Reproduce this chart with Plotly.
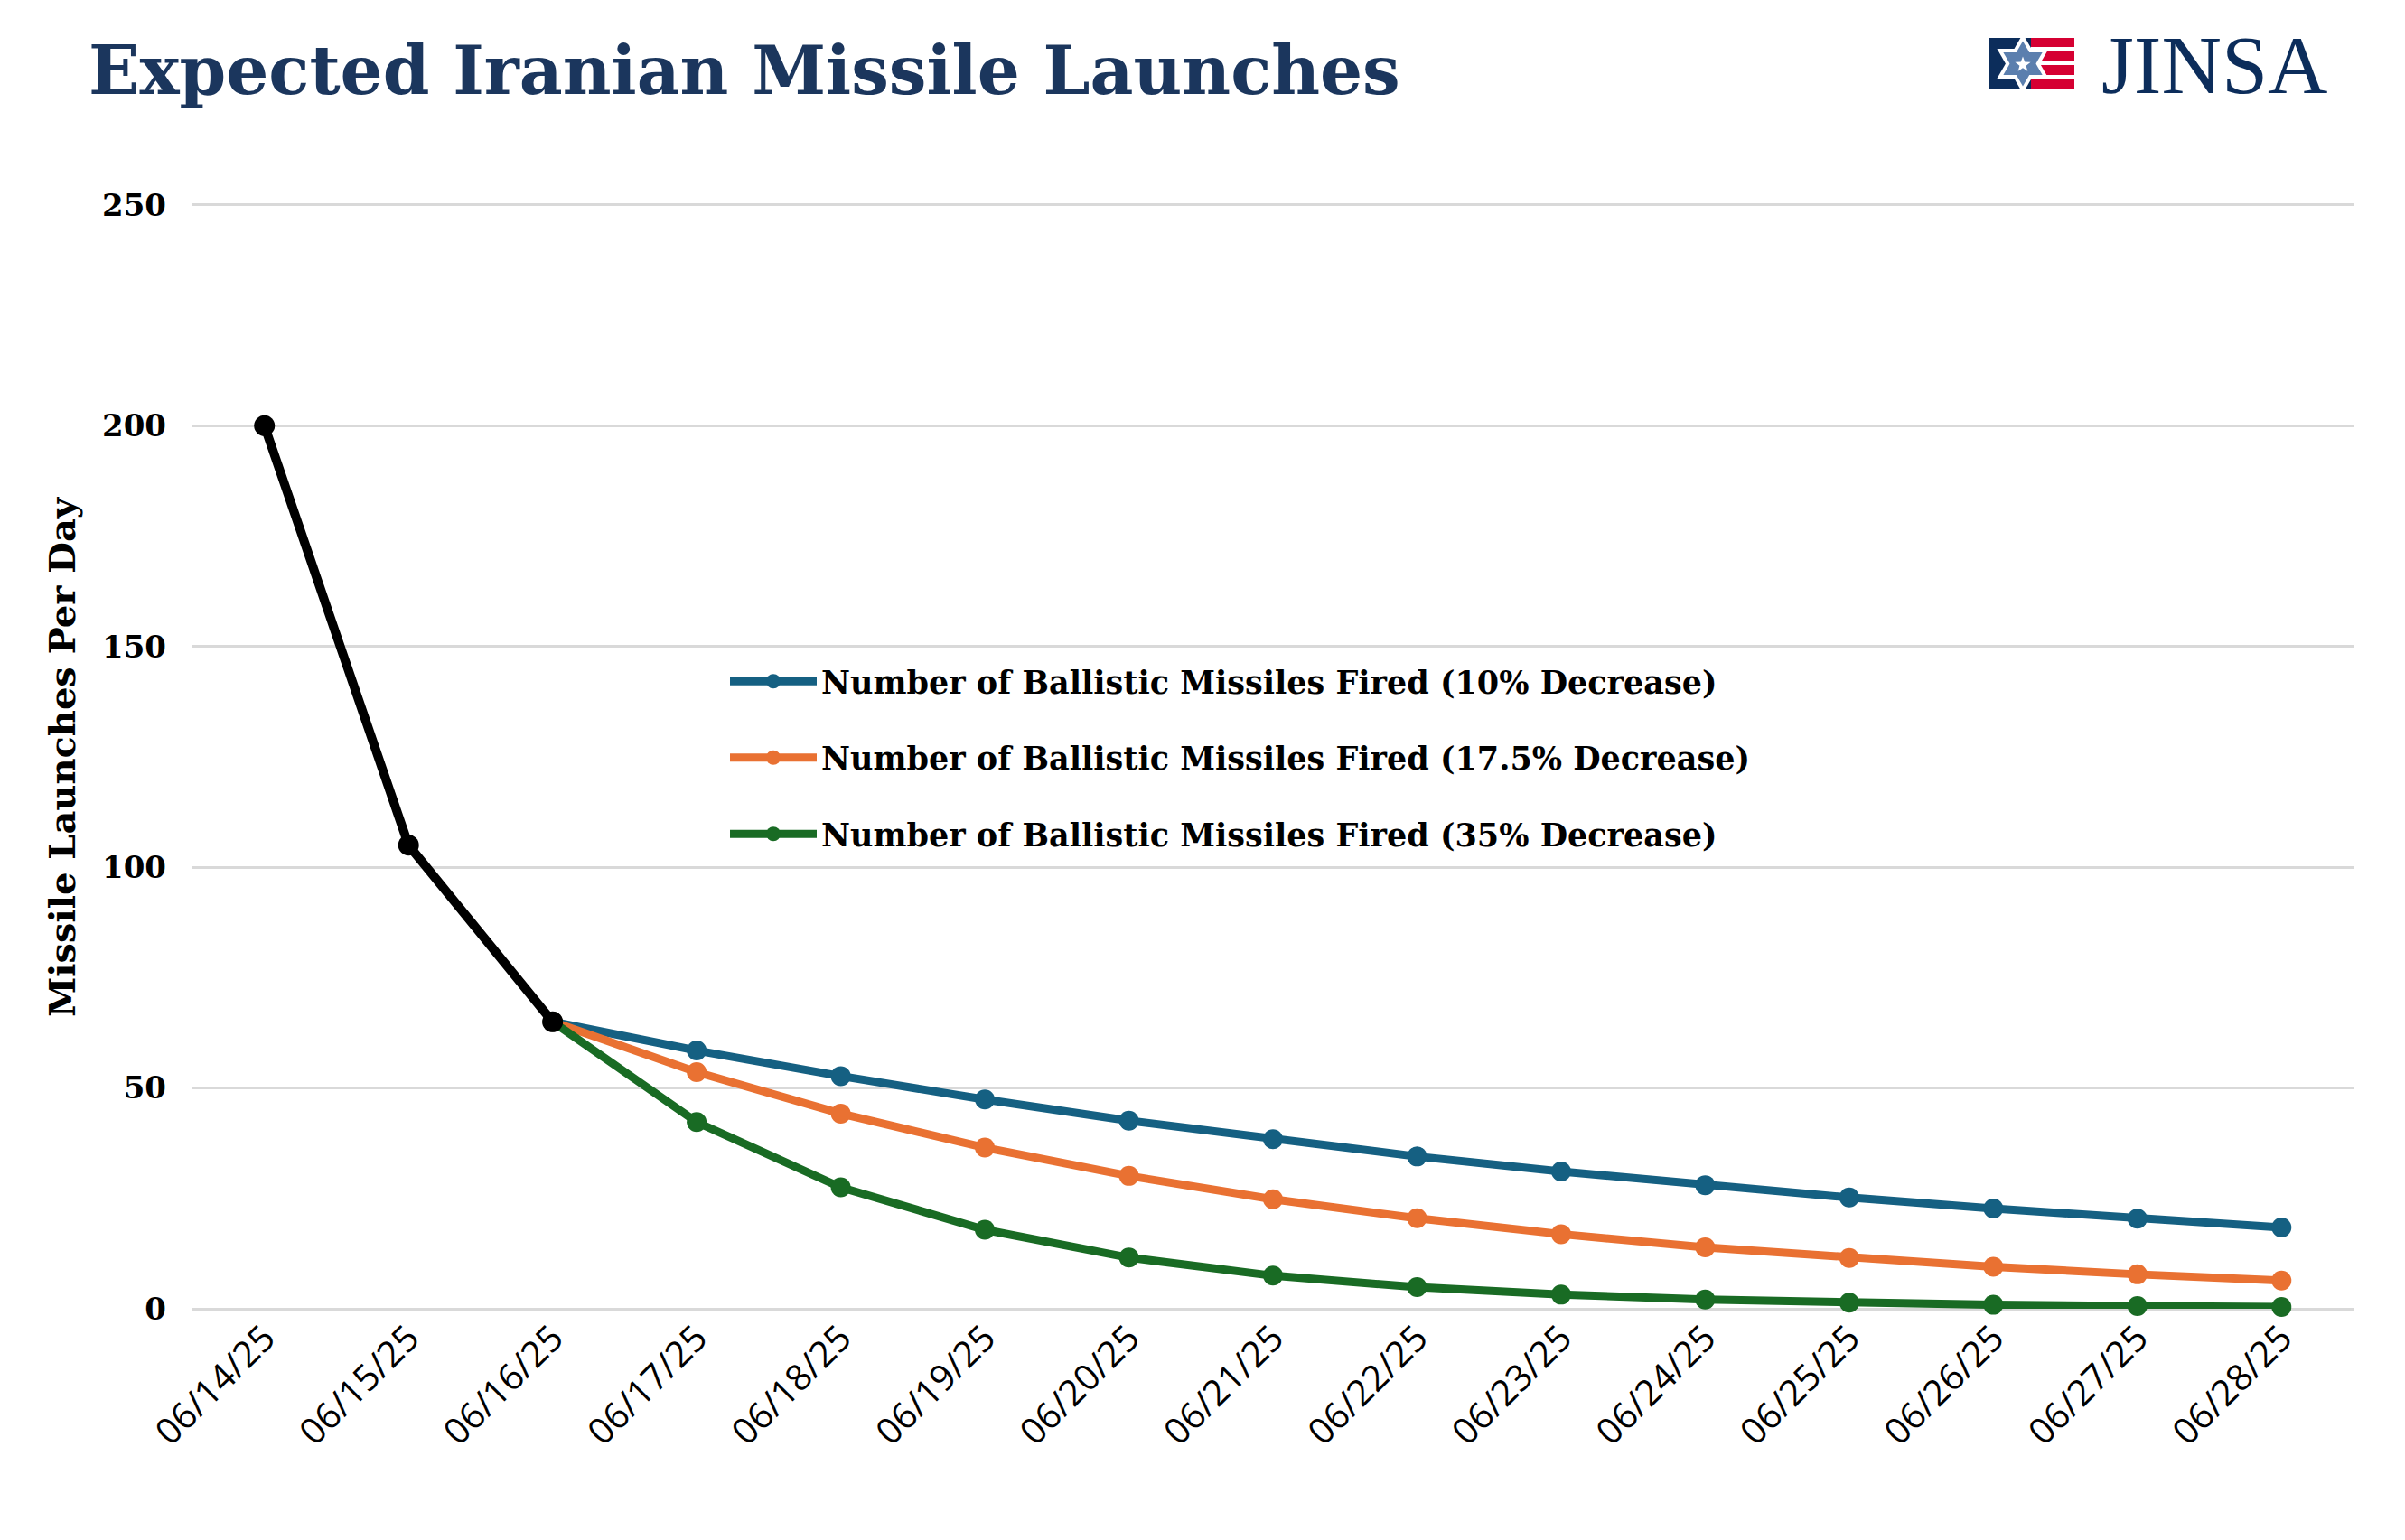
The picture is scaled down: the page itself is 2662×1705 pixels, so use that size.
import math
import plotly.graph_objects as go

# ---------------- data ----------------
dates = ["06/14/25", "06/15/25", "06/16/25", "06/17/25", "06/18/25", "06/19/25",
         "06/20/25", "06/21/25", "06/22/25", "06/23/25", "06/24/25", "06/25/25",
         "06/26/25", "06/27/25", "06/28/25"]
observed = [200, 105, 65]
dec_10 = [65, 58.5, 52.7, 47.4, 42.6, 38.4, 34.5, 31.1, 28.0, 25.2, 22.7, 20.4, 18.4]
dec_175 = [65, 53.6, 44.2, 36.5, 30.1, 24.8, 20.5, 16.9, 13.9, 11.5, 9.5, 7.8, 6.4]
dec_35 = [65, 42.3, 27.5, 17.9, 11.6, 7.5, 4.9, 3.2, 2.1, 1.4, 0.9, 0.6, 0.4]
series_names = ["Number of Ballistic Missiles Fired (10% Decrease)",
                "Number of Ballistic Missiles Fired (17.5% Decrease)",
                "Number of Ballistic Missiles Fired (35% Decrease)"]
y_ticks = [0, 50, 100, 150, 200, 250]
y_max = 250.6

# ---------------- layout geometry ----------------
W, H = 2662, 1705
ML, MR, MB = 213, 57, 256
PX_PER_UNIT = (1449 - 227) / 250.0
MT = round(227 - (y_max - 250) * PX_PER_UNIT)
PW, PH = W - ML - MR, H - MT - MB


def px(x):
    return (x - ML) / PW


def py(y):
    return (H - MB - y) / PH


BLUE, ORANGE, GREEN = "#156082", "#E97132", "#196B24"
NAVY = "#1B365D"
SERIF = "DejaVu Serif"

fig = go.Figure()
for name, vals, col in zip(series_names, [dec_10, dec_175, dec_35], [BLUE, ORANGE, GREEN]):
    fig.add_trace(go.Scatter(
        x=dates[2:], y=vals, name=name, mode="lines+markers",
        line=dict(color=col, width=9), marker=dict(color=col, size=22),
        legendgroup=name, cliponaxis=False, hoverinfo="skip"))

fig.add_trace(go.Scatter(
    x=dates[:3], y=observed, mode="lines+markers", showlegend=False,
    line=dict(color="black", width=10), marker=dict(color="black", size=23),
    cliponaxis=False, hoverinfo="skip"))

# ---------------- logo ----------------
shapes = []


def rect(x0, y0, x1, y1, color):
    shapes.append(dict(type="rect", xref="paper", yref="paper",
                       x0=px(x0), x1=px(x1), y0=py(y1), y1=py(y0),
                       fillcolor=color, line=dict(width=0), layer="above"))


def poly(points, color):
    d = "M " + " L ".join(f"{px(a):.5f},{py(b):.5f}" for a, b in points) + " Z"
    shapes.append(dict(type="path", xref="paper", yref="paper", path=d,
                       fillcolor=color, line=dict(width=0), layer="above"))


LOGO_NAVY = "#0C2D5B"
LOGO_RED = "#D50032"
LOGO_BLUE = "#5B7FAE"
rect(2202, 42, 2248, 99, LOGO_NAVY)
rect(2248, 42, 2296, 99, "white")
for y0, y1 in [(42, 52), (57, 67), (72, 83), (88, 99)]:
    rect(2248, y0, 2296, y1, LOGO_RED)
cx, cy = 2239, 70.5


def hexagram(R, color):
    c = 0.866 * R
    poly([(cx, cy - R), (cx + c, cy + R / 2), (cx - c, cy + R / 2)], color)
    poly([(cx, cy + R), (cx + c, cy - R / 2), (cx - c, cy - R / 2)], color)


hexagram(33, "white")
hexagram(25, LOGO_BLUE)
star = []
for k in range(10):
    r = 9 if k % 2 == 0 else 3.8
    a = -math.pi / 2 + k * math.pi / 5
    star.append((cx + r * math.cos(a), cy + 1 + r * math.sin(a)))
poly(star, "white")

annotations = [
    dict(text="<b>Expected Iranian Missile Launches</b>", xref="paper", yref="paper",
         x=px(96), y=py(78), xanchor="left", yanchor="middle", showarrow=False,
         font=dict(family=SERIF, size=74, color=NAVY)),
    dict(text="JINSA", xref="paper", yref="paper",
         x=px(2451), y=py(72), xanchor="center", yanchor="middle", showarrow=False,
         font=dict(family="Liberation Serif", size=92, color=LOGO_NAVY)),
    dict(text="<b>Missile Launches Per Day</b>", xref="paper", yref="paper",
         x=px(68), y=py(838), xanchor="center", yanchor="middle", showarrow=False,
         textangle=-90, font=dict(family=SERIF, size=40, color="black")),
]

fig.update_layout(
    width=W, height=H,
    margin=dict(l=ML, r=MR, t=MT, b=MB, autoexpand=False),
    paper_bgcolor="white", plot_bgcolor="white",
    showlegend=True,
    legend=dict(x=px(803), y=py(725), xanchor="left", yanchor="top",
                bgcolor="rgba(0,0,0,0)", borderwidth=0, tracegroupgap=36,
                itemwidth=96,
                font=dict(family=SERIF, size=35, color="black", weight="bold")),
    xaxis=dict(type="category", categoryorder="array", categoryarray=dates,
               range=[-0.5, len(dates) - 0.5], showgrid=False, zeroline=False,
               showline=False, ticks="", tickangle=-45,
               tickfont=dict(family="Open Sans", size=40, color="black")),
    yaxis=dict(range=[0, y_max], tickvals=y_ticks, showgrid=True, gridcolor="#D9D9D9",
               gridwidth=3, zeroline=True, zerolinecolor="#D9D9D9", zerolinewidth=3,
               showline=False, ticks="", ticklabelstandoff=28,
               tickfont=dict(family=SERIF, size=34, color="black", weight="bold")),
    shapes=shapes,
    annotations=annotations,
)

fig.write_html("out.html")
